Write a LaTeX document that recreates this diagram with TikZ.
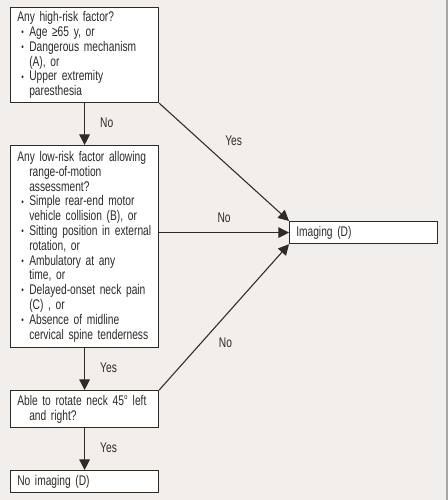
\documentclass[tikz,border=0pt]{standalone}
\usepackage{fontspec}
\setmainfont[FakeStretch=0.73]{Liberation Sans}
\usetikzlibrary{arrows.meta}

\definecolor{paper}{RGB}{241,238,235}
\definecolor{ink}{RGB}{45,42,40}

\hyphenpenalty=10000
\exhyphenpenalty=10000

% bullet and hanging indent for the box texts
\newcommand{\bul}{\hspace*{3pt}\makebox[6pt][l]{\raisebox{0.1ex}{\scalebox{0.7}{\textbullet}}}}
\newcommand{\ind}{\hspace*{9pt}}

\tikzset{
    flowbox/.style={draw=ink, line width=0.9pt, fill=white, anchor=north west, align=left,
        text width=101pt, inner xsep=5pt, inner ysep=2pt, minimum width=111pt, text=ink,
        font=\fontsize{10.5}{11.1}\selectfont},
    flowarrow/.style={draw=ink, line width=0.8pt, -{Triangle[length=8pt,width=8pt]}},
    flowlabel/.style={text=ink, font=\fontsize{10.5}{11.1}\selectfont}
}

\begin{document}
\begin{tikzpicture}[x=0.75pt, y=-0.75pt]
    % Paper background
    \fill[paper] (0,0) rectangle (448,500);
    \fill[black!35] (446,0) rectangle (448,500);
    \useasboundingbox (0,0) rectangle (448,500);

    % Decision boxes
    \node[flowbox, minimum height=71.25pt] (highrisk) at (10,7) {
        Any high-risk factor?\\
        \bul Age ≥65 y, or\\
        \bul Dangerous mechanism\\
        \ind (A), or\\
        \bul Upper extremity\\
        \ind paresthesia
    };

    \node[flowbox, minimum height=151.5pt] (lowrisk) at (10,145) {
        Any low-risk factor allowing\\
        \ind range-of-motion\\
        \ind assessment?\\
        \bul Simple rear-end motor\\
        \ind vehicle collision (B), or\\
        \bul Sitting position in external\\
        \ind rotation, or\\
        \bul Ambulatory at any\\
        \ind time, or\\
        \bul Delayed-onset neck pain\\
        \ind (C) , or\\
        \bul Absence of midline\\
        \ind cervical spine tenderness
    };

    \node[flowbox, minimum height=27.75pt] (rotate) at (10,390) {
        Able to rotate neck 45° left\\
        \ind and right?
    };

    \node[flowbox, minimum height=16.5pt] (noimg) at (10,470) {No imaging (D)};

    \node[flowbox, minimum height=16.5pt] (img) at (289,221) {Imaging (D)};

    % Connectors
    \draw[flowarrow] (highrisk.south) -- (lowrisk.north)
        node[flowlabel, midway, right, xshift=8pt, yshift=1pt] {No};
    \draw[flowarrow] (lowrisk.south) -- (rotate.north)
        node[flowlabel, midway, right, xshift=8pt, yshift=1pt] {Yes};
    \draw[flowarrow] (rotate.south) -- (noimg.north)
        node[flowlabel, midway, right, xshift=8pt, yshift=1pt] {Yes};

    \draw[flowarrow] (highrisk.south east) -- (img.north west)
        node[flowlabel, pos=0.45, anchor=south west, xshift=2pt, yshift=4pt] {Yes};
    \draw[flowarrow] (lowrisk.east |- img.west) -- (img.west)
        node[flowlabel, midway, yshift=11pt] {No};
    \draw[flowarrow] (rotate.north east) -- (img.south west)
        node[flowlabel, midway, yshift=-19pt, xshift=1pt] {No};
\end{tikzpicture}
\end{document}
